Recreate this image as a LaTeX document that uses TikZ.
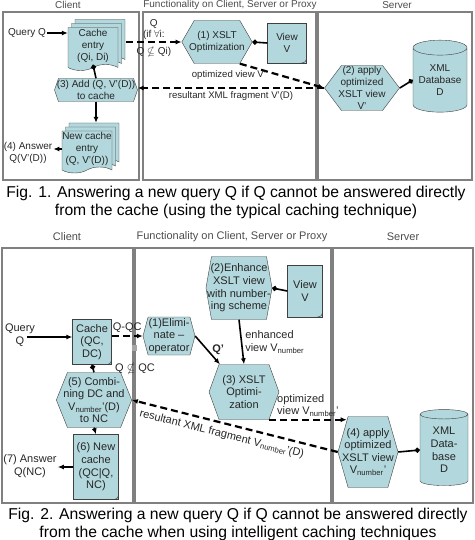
\documentclass[tikz,border=0pt]{standalone}
\usepackage{fontspec}
\usepackage{amssymb}
\setmainfont{Liberation Sans}
\usetikzlibrary{arrows.meta,shapes.symbols,shapes.geometric,shadows}

\definecolor{procfill}{HTML}{B2D7DC}
\definecolor{lanegray}{HTML}{808080}

\newcommand\pagecurl[1]{\draw[black!75] ([xshift=-6pt]#1.south east)
  .. controls ([xshift=-1pt,yshift=1pt]#1.south east) .. ([yshift=6pt]#1.south east);}

\begin{document}
\begin{tikzpicture}[x=1pt, y=-1pt,
  proc/.style   = {signal, signal to=east and west, signal pointer angle=120,
                   draw=black!75, fill=procfill, text=black!85,
                   align=center, inner sep=0pt},
  sheet/.style  = {rectangle, draw=black!75, fill=procfill, text=black!85,
                   align=center, inner sep=0pt},
  sheets/.style = {tape, tape bend top=none, tape bend height=6pt,
                   draw=black!75, fill=procfill, text=black!85,
                   align=center, inner sep=0pt,
                   double copy shadow={shadow xshift=3.5pt, shadow yshift=4pt}},
  dbase/.style  = {cylinder, shape border rotate=90, aspect=0.35,
                   draw=black!75, fill=procfill, text=black!85,
                   align=center, inner sep=0pt},
  lane/.style   = {draw=lanegray, line width=1.2pt},
  lbl/.style    = {align=center, text=black!85, inner sep=1pt},
  hdr/.style    = {text=black!70, inner sep=0pt},
  figcap/.style = {align=center, inner sep=0pt,
                   font=\fontsize{15.7}{18}\selectfont},
  arr/.style    = {-{Latex[length=6pt,width=5pt]}, line width=1.6pt},
  darr/.style   = {arr, line width=2.2pt, dash pattern=on 7pt off 4pt},
  knob/.style   = {{Circle[length=5pt]}-, line width=1.6pt},
  onefont/.style= {font=\fontsize{10}{11.8}\selectfont},
  twofont/.style= {font=\fontsize{11}{12.6}\selectfont}
]
\useasboundingbox (0,0) rectangle (474,540);

% Fig. 1: typical caching
\draw[lane] (3,12) rectangle (139,180);
\draw[lane] (143,12) rectangle (316,180);
\draw[lane] (318,12) rectangle (472,180);
\node[hdr, onefont] (h1a) at (68,5)  {Client};
\node[hdr, onefont] (h1b) at (230,5) {Functionality on Client, Server or Proxy};
\node[hdr, onefont] (h1c) at (397,5) {Server};

\node[sheets, onefont, minimum width=50pt, minimum height=43pt] (cache1) at (93,46)
  {Cache\\entry\\(Qi, Di)};
\node[proc, onefont, signal pointer angle=142, inner xsep=-4pt,
      minimum width=83pt, minimum height=23pt] (add) at (96,90)
  {(3) Add (Q, V'(D))\\to cache};
\node[sheets, onefont, minimum width=50pt, minimum height=42pt] (newc) at (87,149)
  {New cache\\entry\\(Q, V'(D))};
\node[lbl, onefont] (q1) at (27,33) {Query Q};
\node[lbl, onefont] (ans1) at (28,153) {(4) Answer\\Q(V'(D))};

\node[proc, onefont, inner xsep=-5pt, minimum width=69pt, minimum height=43pt] (opt1) at (217,42)
  {(1) XSLT\\Optimization};
\node[sheet, onefont, minimum width=39pt, minimum height=40pt] (view1) at (287,43)
  {View\\V};
\pagecurl{view1}
\node[proc, onefont, signal pointer angle=106, inner xsep=-3.5pt,
      minimum width=75pt, minimum height=45pt] (apply1) at (362,88)
  {(2) apply\\optimized\\XSLT view\\V'};
\node[dbase, onefont, minimum width=54pt, minimum height=72pt] (db1) at (440,80)
  {XML\\Database\\D};

\draw[arr] (q1.east) -- (q1.east -| cache1.west);
\draw[knob] (cache1.south) -- (add.north);
\draw[arr] (add.south) -- ([yshift=8pt]add.south |- newc.north);
\draw[arr] (newc.west) -- (ans1.east |- newc.west);
\draw[darr] ([xshift=8pt]cache1.east |- opt1.west) -- (opt1.west)
  node[lbl, onefont, midway, above=0pt] (c1) {Q\\(if $\forall$i:}
  node[lbl, onefont, midway, below=2pt] (c2) {Q $\nsubseteq$ Qi)};
\draw[knob] (opt1.east) -- (view1.west);
\draw[darr] (opt1.south east) -- (apply1.west)
  node[lbl, font=\fontsize{9.6}{11}\selectfont, at start, below=5pt, xshift=-11pt] (ov1) {optimized view V'};
\draw[darr] (apply1.west) -- (apply1.west -| add.east)
  node[lbl, font=\fontsize{9.6}{11}\selectfont, midway, below=1pt] (rx1) {resultant XML fragment V'(D)};
\draw[knob] (db1.west) -- (apply1.east);

\node[figcap] (cap1) at (236,202)
  {Fig. 1. Answering a new query Q if Q cannot be answered directly\\
   from the cache (using the typical caching technique)};

% Fig. 2: intelligent caching
\draw[lane] (2,248) rectangle (133,503);
\draw[lane] (135,248) rectangle (331,503);
\draw[lane] (333,248) rectangle (473,503);
\fill[gray!70] (131.5,345) rectangle (136.5,351);
\node[hdr, twofont] (h2a) at (67,237)  {Client};
\node[hdr, twofont] (h2b) at (232,237) {Functionality on Client, Server or Proxy};
\node[hdr, twofont] (h2c) at (403,237) {Server};

\node[lbl, twofont] (q2) at (20,335) {Query\\Q};
\coordinate (q2o) at (27,337);
\node[sheet, twofont, minimum width=39pt, minimum height=45pt] (cache2) at (92,342)
  {Cache\\(QC,\\DC)};
\pagecurl{cache2}
\node[proc, twofont, signal pointer angle=136, inner xsep=-4pt,
      minimum width=75pt, minimum height=55pt] (comb) at (94,400)
  {(5) Combi-\\ning DC and\\V\textsubscript{number}'(D)\\to NC};
\node[sheet, twofont, minimum width=45pt, minimum height=65pt] (newc2) at (96,467)
  {(6) New\\cache\\(QC|Q,\\NC)};
\pagecurl{newc2}
\node[lbl, twofont] (ans2) at (30,466) {(7) Answer\\Q(NC)};
\node[lbl, twofont] (cond2) at (135,369) {Q $\nsubseteq$ QC};

\node[proc, twofont, signal pointer angle=150, inner xsep=0pt,
      minimum width=52pt, minimum height=38pt] (elim) at (169,336)
  {(1)Elimi-\\nate --\\operator};
\node[proc, twofont, signal pointer angle=160, inner xsep=-4.3pt,
      minimum width=65pt, minimum height=63pt] (enh) at (239,288)
  {(2)Enhance\\XSLT view\\with number-\\ing scheme};
\node[sheet, twofont, minimum width=35pt, minimum height=52pt] (view2) at (305,291)
  {View\\V};
\pagecurl{view2}
\node[proc, twofont, signal pointer angle=140, inner xsep=3pt,
      minimum width=70pt, minimum height=55pt] (xopt) at (244,392)
  {(3) XSLT\\Optimi-\\zation};
\node[proc, twofont, signal pointer angle=148, inner xsep=-6pt,
      minimum width=60pt, minimum height=71pt] (apply2) at (368,452)
  {(4) apply\\optimized\\XSLT view\\V\textsubscript{number}'};
\node[dbase, twofont, minimum width=48pt, minimum height=76pt] (db2) at (444,450)
  {XML\\Data-\\base\\D};

\draw[arr] (q2o) -- (q2o -| cache2.west);
\draw[darr] (cache2.east |- elim.west) -- (elim.west)
  node[lbl, twofont, midway, above=1pt] (qqc) {Q-QC};
\draw[knob] (cache2.south) -- (comb.north);
\draw[arr] (comb.south) -- (newc2.north);
\draw[arr] (newc2.west) -- (ans2.east |- newc2.west);
\draw[knob] (enh.east) -- (view2.west);
\draw[arr] (enh.south) -- (xopt.north)
  node[lbl, twofont, midway, right=2pt, align=left] (ev) {enhanced\\view V\textsubscript{number}};
\draw[arr] (elim.east) -- (xopt)
  node[lbl, twofont, midway, right=3pt] (qp) {\textbf{Q'}};
\draw[darr] (xopt.south east) -- ([xshift=9pt]xopt.south east -| apply2.west)
  node[lbl, twofont, midway, above=1pt, align=left] (ov2) {optimized\\view V\textsubscript{number}'};
\draw[darr] (apply2.west) -- (comb.east)
  node[lbl, twofont, pos=0.55, sloped, below=4pt] (rx2) {resultant XML fragment V\textsubscript{number}'(D)};
\draw[knob] (db2.west) -- (apply2.east);

\node[figcap] (cap2) at (238,524)
  {Fig. 2. Answering a new query Q if Q cannot be answered directly\\
   from the cache when using intelligent caching techniques};
\end{tikzpicture}
\end{document}
